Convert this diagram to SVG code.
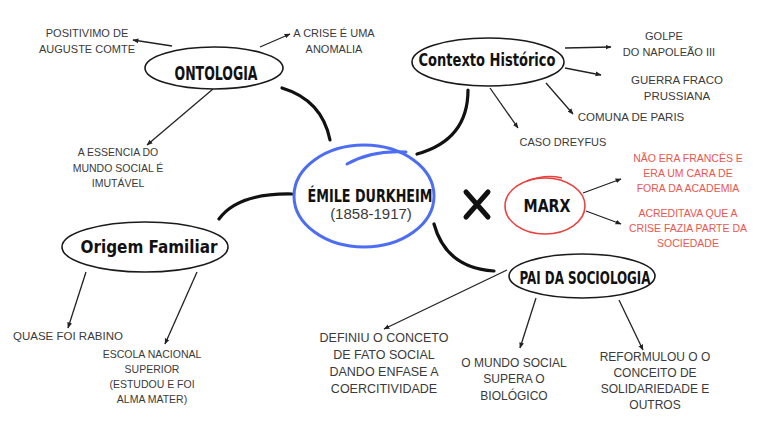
<svg xmlns="http://www.w3.org/2000/svg" width="768" height="431" viewBox="0 0 768 431">
<defs>
<marker id="ah" viewBox="0 0 10 10" refX="9" refY="5" markerWidth="6" markerHeight="6" orient="auto" markerUnits="userSpaceOnUse">
<path d="M0,1 L10,5 L0,9 Z" fill="#222"/>
</marker>
<style>
.t{font-family:"Liberation Sans",Arial,sans-serif;fill:#3a3a3a;text-anchor:middle}
.r{fill:#ec5550}
.h{font-family:"DejaVu Sans Condensed","DejaVu Sans",sans-serif;font-weight:bold;fill:#111;text-anchor:middle}
.oval{fill:#fff;stroke:#1a1a1a;stroke-width:1.6}
.arr{fill:none;stroke:#222;stroke-width:1.3;marker-end:url(#ah)}
.thick{fill:none;stroke:#111;stroke-width:3.2;stroke-linecap:round}
</style>
</defs>
<rect width="768" height="431" fill="#fff"/>

<g id="connectors">
<path class="thick" d="M282,88 Q322,100 330,140"/>
<path class="thick" d="M468,90 Q468,140 417,154"/>
<path class="thick" d="M219,219 Q238,193 292,194"/>
<path class="thick" d="M434,224 Q446,268 494,271"/>
<path class="arr" d="M172,46 L133,40"/>
<path class="arr" d="M260,47 L290,34"/>
<path class="arr" d="M213,89 L147,145"/>
<path class="arr" d="M565,48 L611,47"/>
<path class="arr" d="M565,68 L601,75"/>
<path class="arr" d="M546,83 L573,114"/>
<path class="arr" d="M490,88 L518,128"/>
<path class="arr" d="M583,193 L621,179"/>
<path class="arr" d="M586,211 L621,224"/>
<path class="arr" d="M86,272 L68,328"/>
<path class="arr" d="M197,272 L165,344"/>
<path class="arr" d="M507,270 L384,329"/>
<path class="arr" d="M536,298 L520,348"/>
<path class="arr" d="M619,300 L643,350"/>
</g>

<g id="ontologia">
<ellipse class="oval" cx="214" cy="68" rx="69" ry="21"/>
<text class="h" x="216" y="80" font-size="19" textLength="83" lengthAdjust="spacingAndGlyphs">ONTOLOGIA</text>
</g>
<g id="positivismo"><text class="t" font-size="11"><tspan x="87" y="37">POSITIVIMO DE</tspan><tspan x="87" y="53">AUGUSTE COMTE</tspan></text></g>
<g id="crise-anomalia"><text class="t" font-size="11"><tspan x="334" y="37">A CRISE É UMA</tspan><tspan x="334" y="53">ANOMALIA</tspan></text></g>
<g id="essencia"><text class="t" font-size="10.5"><tspan x="118" y="156">A ESSENCIA DO</tspan><tspan x="118" y="172">MUNDO SOCIAL É</tspan><tspan x="118" y="187">IMUTÁVEL</tspan></text></g>

<g id="contexto">
<ellipse class="oval" cx="488" cy="62" rx="76" ry="24"/>
<text class="h" x="487" y="66" font-size="17" textLength="137" lengthAdjust="spacingAndGlyphs">Contexto Histórico</text>
</g>
<g id="golpe"><text class="t" font-size="11"><tspan x="664" y="40">GOLPE</tspan><tspan x="669" y="56">DO NAPOLEÃO III</tspan></text></g>
<g id="guerra"><text class="t" font-size="11.5"><tspan x="677" y="84">GUERRA FRACO</tspan><tspan x="677" y="100">PRUSSIANA</tspan></text></g>
<g id="comuna"><text class="t" font-size="11.5" x="631" y="121">COMUNA DE PARIS</text></g>
<g id="dreyfus"><text class="t" font-size="11" x="563" y="146">CASO DREYFUS</text></g>

<g id="durkheim">
<ellipse cx="364" cy="196" rx="70" ry="51" fill="none" stroke="#4d6df2" stroke-width="3"/>
<path d="M406,152 Q372,150 347,164" fill="none" stroke="#4d6df2" stroke-width="3" stroke-linecap="round"/>
<text class="h" x="370" y="202" font-size="18" textLength="125" lengthAdjust="spacingAndGlyphs">ÉMILE DURKHEIM</text>
<text class="t" x="371" y="219" font-size="15" fill="#444">(1858-1917)</text>
</g>

<g id="versus">
<path d="M466,192 L488,217 M488,192 L466,217" stroke="#111" stroke-width="5" stroke-linecap="round"/>
</g>

<g id="marx">
<ellipse cx="545" cy="206" rx="40" ry="28" fill="none" stroke="#e8413f" stroke-width="1.6"/>
<path d="M527,181 Q545,174 562,178" fill="none" stroke="#e8413f" stroke-width="1.6"/>
<text class="h" x="547" y="212" font-size="18" textLength="47" lengthAdjust="spacingAndGlyphs">MARX</text>
</g>
<g id="nao-frances"><text class="t r" font-size="10.5"><tspan x="688" y="162">NÃO ERA FRANCÊS E</tspan><tspan x="688" y="177">ERA UM CARA DE</tspan><tspan x="688" y="192">FORA DA ACADEMIA</tspan></text></g>
<g id="acreditava"><text class="t r" font-size="10.5"><tspan x="688" y="217">ACREDITAVA QUE A</tspan><tspan x="688" y="232">CRISE FAZIA PARTE DA</tspan><tspan x="688" y="247">SOCIEDADE</tspan></text></g>

<g id="origem">
<ellipse class="oval" cx="145" cy="247" rx="83" ry="25"/>
<text class="h" x="149" y="253" font-size="18" textLength="137" lengthAdjust="spacingAndGlyphs">Origem Familiar</text>
</g>
<g id="rabino"><text class="t" font-size="11.5" x="68" y="340">QUASE FOI RABINO</text></g>
<g id="escola"><text class="t" font-size="10.5"><tspan x="152" y="358">ESCOLA NACIONAL</tspan><tspan x="152" y="373">SUPERIOR</tspan><tspan x="152" y="388">(ESTUDOU E FOI</tspan><tspan x="152" y="403">ALMA MATER)</tspan></text></g>

<g id="pai">
<ellipse class="oval" cx="582" cy="276" rx="73" ry="22"/>
<text class="h" x="585" y="284" font-size="18" textLength="131" lengthAdjust="spacingAndGlyphs">PAI DA SOCIOLOGIA</text>
</g>
<g id="fato-social"><text class="t" font-size="12.5"><tspan x="384" y="342">DEFINIU O CONCETO</tspan><tspan x="384" y="359">DE FATO SOCIAL</tspan><tspan x="384" y="376">DANDO ENFASE A</tspan><tspan x="384" y="393">COERCITIVIDADE</tspan></text></g>
<g id="mundo-social"><text class="t" font-size="12"><tspan x="514" y="367">O MUNDO SOCIAL</tspan><tspan x="514" y="383">SUPERA O</tspan><tspan x="514" y="400">BIOLÓGICO</tspan></text></g>
<g id="solidariedade"><text class="t" font-size="12"><tspan x="655" y="361">REFORMULOU O O</tspan><tspan x="655" y="377">CONCEITO DE</tspan><tspan x="655" y="393">SOLIDARIEDADE E</tspan><tspan x="655" y="409">OUTROS</tspan></text></g>
</svg>
